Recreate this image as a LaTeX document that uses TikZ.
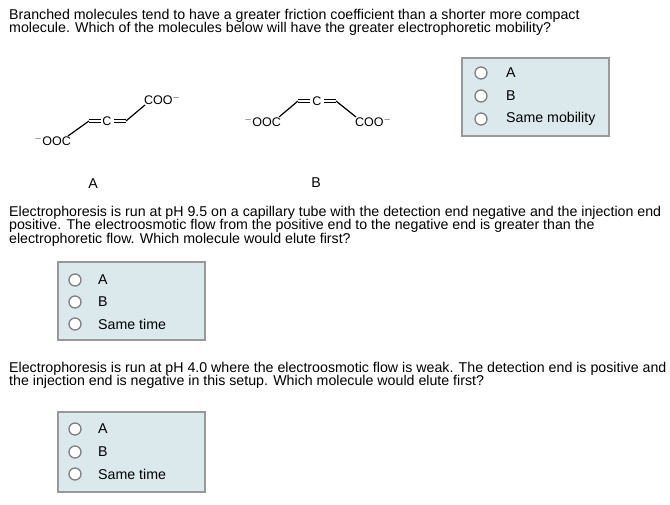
\documentclass[tikz,border=0pt]{standalone}
\usepackage{fontspec}
\setmainfont{Liberation Sans}
\begin{document}
\begin{tikzpicture}[x=1pt,y=-1pt,
  every node/.style={inner sep=0pt,font=\fontsize{14.2}{13.4}\selectfont},
  txt/.style={anchor=north west,align=left},
  box/.style={draw=gray!80,line width=1.2pt,fill={rgb,255:red,220;green,233;blue,236}},
  radio/.style={circle,draw=gray,line width=1.3pt,fill=white,minimum size=12pt},
  bond/.style={line width=1.2pt},
  chem/.style={font=\fontsize{12.5}{12.5}\selectfont}]
\useasboundingbox (0,0) rectangle (670,505);
\node[txt] (q1) at (9,9) {Branched molecules tend to have a greater friction coefficient than a shorter more compact\\molecule. Which of the molecules below will have the greater electrophoretic mobility?};
% Molecule A
\node[chem,anchor=east] (a1) at (71,141) {$^{-}$OOC};
\node[chem] (ac) at (107,121) {C};
\node[chem,anchor=west] (a2) at (144,100) {COO$^{-}$};
\coordinate (ab1) at (89,121); \coordinate (ab2) at (126,121);
\draw[bond] (68,136) -- (ab1);
\draw[bond] (ab1)++(0,-1.5) -- ++(12,0) (ab1)++(0,1.5) -- ++(12,0);
\draw[bond] (ab2)++(0,-1.5) -- ++(-12,0) (ab2)++(0,1.5) -- ++(-12,0);
\draw[bond] (ab2) -- (145,105);
\node (la) at (93,184) {A};
% Molecule B
\node[chem,anchor=east] (b1) at (281,122) {$^{-}$OOC};
\node[chem] (bc) at (317,101) {C};
\node[chem,anchor=west] (b2) at (355,122) {COO$^{-}$};
\coordinate (bb1) at (298,101); \coordinate (bb2) at (336,101);
\draw[bond] (279,117) -- (bb1);
\draw[bond] (bb1)++(0,-1.5) -- ++(12,0) (bb1)++(0,1.5) -- ++(12,0);
\draw[bond] (bb2)++(0,-1.5) -- ++(-12,0) (bb2)++(0,1.5) -- ++(-12,0);
\draw[bond] (bb2) -- (356,117);
\node (lb) at (316,183) {B};
% Box 1
\draw[box] (462,58) rectangle (609,136);
\node[radio] (r11) at (481,73) {}; \node[txt,anchor=west] (t11) at (506,73) {A};
\node[radio] (r12) at (481,96) {}; \node[txt,anchor=west] (t12) at (506,96) {B};
\node[radio] (r13) at (481,119) {}; \node[txt,anchor=west] (t13) at (506,119) {Same mobility};
% Paragraph 2
\node[txt] (q2) at (9,206) {Electrophoresis is run at pH 9.5 on a capillary tube with the detection end negative and the injection end\\positive. The electroosmotic flow from the positive end to the negative end is greater than the\\electrophoretic flow. Which molecule would elute first?};
\draw[box] (58,262) rectangle (205,340);
\node[radio] (r21) at (75,280) {}; \node[txt,anchor=west] (t21) at (98,280) {A};
\node[radio] (r22) at (75,302) {}; \node[txt,anchor=west] (t22) at (98,302) {B};
\node[radio] (r23) at (75,324) {}; \node[txt,anchor=west] (t23) at (98,324) {Same time};
% Paragraph 3
\node[txt] (q3) at (9,362) {Electrophoresis is run at pH 4.0 where the electroosmotic flow is weak. The detection end is positive and\\the injection end is negative in this setup. Which molecule would elute first?};
\draw[box] (58,412) rectangle (205,492);
\node[radio] (r31) at (75,429) {}; \node[txt,anchor=west] (t31) at (98,429) {A};
\node[radio] (r32) at (75,452) {}; \node[txt,anchor=west] (t32) at (98,452) {B};
\node[radio] (r33) at (75,474) {}; \node[txt,anchor=west] (t33) at (98,474) {Same time};
\end{tikzpicture}
\end{document}
